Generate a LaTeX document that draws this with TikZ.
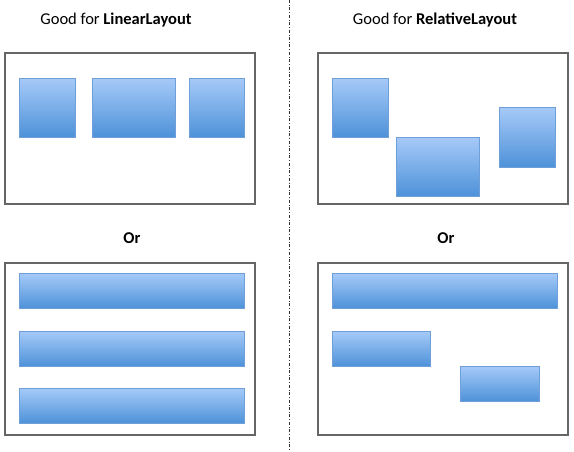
\documentclass[tikz,border=0pt]{standalone}
\usepackage{fontspec}
\setmainfont{Carlito}
\usetikzlibrary{shadows}

\definecolor{blockTop}{HTML}{A6CAF8}
\definecolor{blockBot}{HTML}{4E92D9}
\definecolor{blockLine}{HTML}{6F9FD8}
\tikzset{
  frame/.style={draw=black!60, line width=1.1pt, fill=white,
    drop shadow={opacity=0.25, shadow xshift=0.6pt, shadow yshift=-0.8pt}},
  block/.style={draw=blockLine, line width=0.6pt,
    top color=blockTop, bottom color=blockBot,
    drop shadow={opacity=0.2, shadow xshift=0.6pt, shadow yshift=-0.8pt}},
  caption/.style={font=\fontsize{16.5}{19}\selectfont}
}

\begin{document}
\begin{tikzpicture}[x=1pt,y=-1pt]
\useasboundingbox (0,0) rectangle (574,451);

\node[caption] (titleL) at (116,20) {Good for \textbf{LinearLayout}};
\node[caption] (titleR) at (435,20) {Good for \textbf{RelativeLayout}};
\node[caption] (orL) at (132,238) {\textbf{Or}};
\node[caption] (orR) at (446,238) {\textbf{Or}};

\draw[black!80, dash dot, line width=0.6pt] (289.5,0) -- (289.5,451);

% linear, side by side
\draw[frame] (5,53) rectangle (255,204);
\draw[block] (19,78) rectangle (75,137);
\draw[block] (92,78) rectangle (175,137);
\draw[block] (189,78) rectangle (244,137);

% relative, scattered
\draw[frame] (318,53) rectangle (568,204);
\draw[block] (332,78) rectangle (388,137);
\draw[block] (396,137) rectangle (479,196);
\draw[block] (499,107) rectangle (555,167);

% linear, stacked
\draw[frame] (5,263) rectangle (255,435);
\draw[block] (19,273) rectangle (244,308);
\draw[block] (19,331) rectangle (244,366);
\draw[block] (19,388) rectangle (244,423);

% relative, mixed
\draw[frame] (318,263) rectangle (568,435);
\draw[block] (332,273) rectangle (557,308);
\draw[block] (332,331) rectangle (430,366);
\draw[block] (460,366) rectangle (539,401);
\end{tikzpicture}
\end{document}
